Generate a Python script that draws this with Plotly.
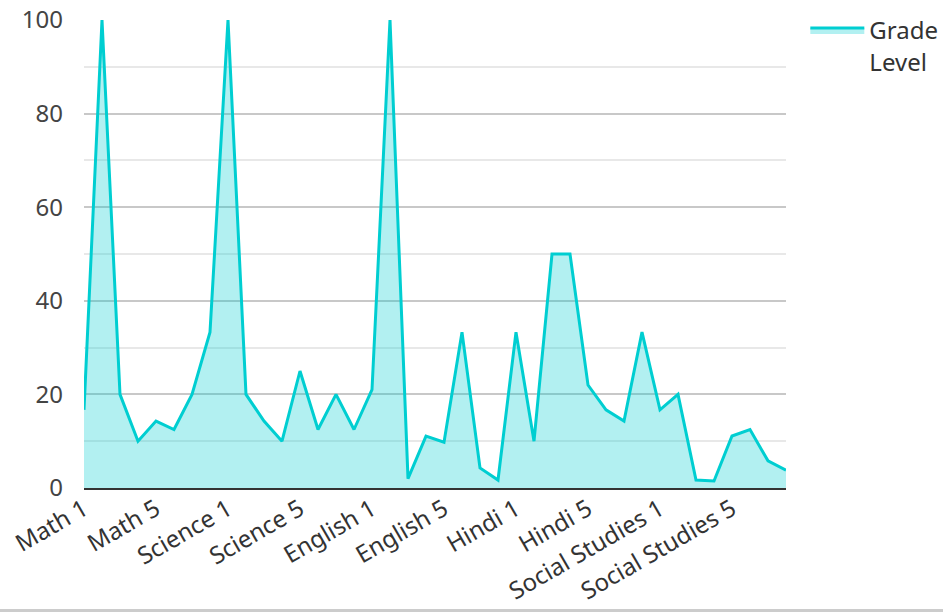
import plotly.graph_objects as go

# Lesson categories: five subjects, eight lessons each
subjects = ["Math", "Science", "English", "Hindi", "Social Studies"]
lessons_per_subject = 8
categories = [f"{s} {i}" for s in subjects for i in range(1, lessons_per_subject + 1)]

# Grade level per lesson
grade_level = [
    16.7, 100, 20, 10, 14.3, 12.5, 20, 33.3,
    100, 20, 14.3, 10, 25, 12.5, 20, 12.5,
    21, 100, 2, 11.1, 9.8, 33.3, 4.3, 1.7,
    33.3, 10, 50, 50, 22, 16.7, 14.3, 33.3,
    16.7, 20, 1.7, 1.5, 11.1, 12.5, 5.8, 3.8,
]

# Show every fourth category label
tick_labels = categories[::4]

LINE = "#00CED1"
FILL = "rgba(0,206,209,0.30)"
FONT = "Noto Sans"

fig = go.Figure()
fig.add_trace(go.Scatter(
    x=categories,
    y=grade_level,
    mode="lines",
    name="Grade<br>Level",
    line=dict(color=LINE, width=3),
    fill="tozeroy",
    fillcolor=FILL,
))

fig.update_layout(
    width=943,
    height=612,
    margin=dict(l=84, r=157, t=20, b=124),
    paper_bgcolor="white",
    plot_bgcolor="white",
    font=dict(family=FONT, size=24, color="#444444"),
    showlegend=True,
    legend=dict(
        xref="container", x=0.854, xanchor="left",
        yref="container", y=1 - 8 / 612, yanchor="top",
        valign="top",
        font=dict(family=FONT, size=24, color="#333333"),
        itemwidth=54,
        bgcolor="rgba(0,0,0,0)",
    ),
    xaxis=dict(
        type="category",
        range=[0, len(categories) - 1],
        tickmode="array",
        tickvals=tick_labels,
        ticktext=tick_labels,
        tickangle=-30,
        showgrid=False,
        showline=True,
        linecolor="#333333",
        linewidth=2,
        ticks="",
        ticklabelstandoff=-4,
        tickfont=dict(family=FONT, size=24, color="#333333"),
        zeroline=False,
        automargin=False,
    ),
    yaxis=dict(
        range=[0, 100],
        tickmode="array",
        tickvals=[0, 20, 40, 60, 80, 100],
        showgrid=True,
        gridcolor="#c8c8c8",
        gridwidth=2,
        minor=dict(tickvals=[10, 30, 50, 70, 90], showgrid=True,
                   gridcolor="#e8e8e8", gridwidth=2),
        zeroline=False,
        showline=False,
        ticks="",
        ticklabelstandoff=20,
        tickfont=dict(family=FONT, size=24, color="#444444"),
        automargin=False,
    ),
    shapes=[dict(
        type="line", xref="paper", yref="paper",
        x0=-84 / 702, x1=(943 - 84) / 702,
        y0=-122.5 / 468, y1=-122.5 / 468,
        line=dict(color="#cccccc", width=3),
        layer="above",
    )],
)

fig.write_html("out.html")
